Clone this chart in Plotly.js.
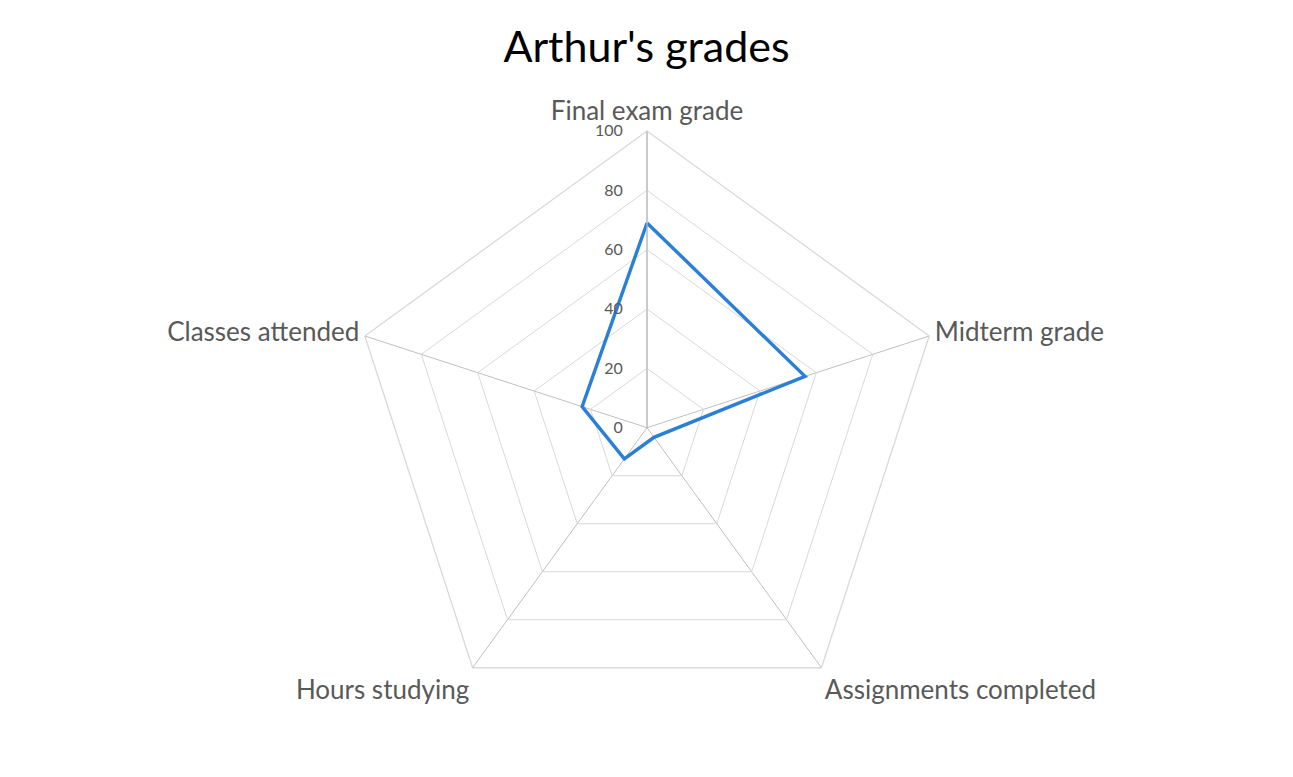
<!DOCTYPE html>
<html>
<head>
<meta charset="utf-8">
<script src="https://cdn.plot.ly/plotly-3.0.1.min.js"></script>
<style>
  html, body { margin: 0; padding: 0; background: #fff; }
  #chart { width: 1293px; height: 777px; }
</style>
</head>
<body>
<div id="chart"></div>
<script>
const categories = ['Final exam grade', 'Midterm grade', 'Assignments completed', 'Hours studying', 'Classes attended'];
const grades = [69, 56, 4, 13, 23];
const radialTicks = [0, 20, 40, 60, 80, 100];

const target = document.getElementById('chart');

// close the loop by repeating the first category
const trace = {
  type: 'scatterpolar',
  mode: 'lines',
  theta: categories.concat(categories[0]),
  r: grades.concat(grades[0]),
  line: { color: '#2b7fd6', width: 3.4 },
  hoverinfo: 'theta+r'
};

const layout = {
  width: 1293,
  height: 777,
  margin: { l: 0, r: 0, t: 0, b: 0 },
  paper_bgcolor: '#ffffff',
  font: { family: 'Lato, "Open Sans", sans-serif', color: '#595959' },
  title: {
    text: "Arthur's grades",
    font: { size: 43, color: '#000000', family: 'Lato, "Open Sans", sans-serif' },
    x: 0.5,
    xanchor: 'center',
    y: 0.94,
    yanchor: 'middle'
  },
  showlegend: false,
  polar: {
    domain: { x: [0.2709, 0.7299], y: [0.0677, 0.8314] },
    gridshape: 'linear',
    bgcolor: 'rgba(0,0,0,0)',
    radialaxis: {
      range: [0, 100],
      tickvals: radialTicks,
      angle: 90,
      tickangle: 90,
      side: 'counterclockwise',
      showline: true,
      linecolor: '#bfbfbf',
      linewidth: 1.2,
      gridcolor: '#d9d9d9',
      gridwidth: 1.3,
      ticks: 'outside',
      ticklen: 18,
      tickcolor: 'rgba(0,0,0,0)',
      tickfont: { size: 16, color: '#595959' }
    },
    angularaxis: {
      direction: 'clockwise',
      rotation: 90,
      showline: true,
      linecolor: '#d9d9d9',
      linewidth: 1.3,
      gridcolor: '#bfbfbf',
      gridwidth: 1.2,
      ticks: '',
      tickfont: { size: 26, color: '#595959' }
    }
  }
};

Plotly.newPlot(target, [trace], layout, { displayModeBar: false });
</script>
</body>
</html>
